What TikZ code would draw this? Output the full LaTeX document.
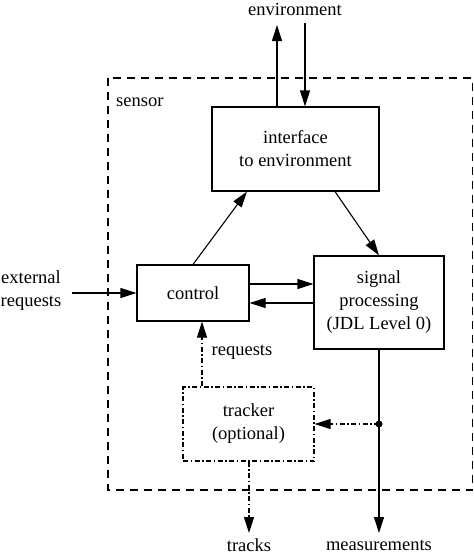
\documentclass[tikz,border=0pt]{standalone}
\usepackage{fontspec}
\setmainfont{Liberation Serif}
\usepackage{tikz}
\usetikzlibrary{positioning, arrows.meta, calc}
\tikzset{
  block/.style={rectangle, draw=black, line width=1.1pt, align=center, inner sep=0pt},
  optblock/.style={block, dash pattern=on 5pt off 2.5pt on 1.5pt off 2.5pt},
  label/.style={align=center, inner sep=1pt},
  arrow/.style={line width=1.1pt, -{Triangle[length=16pt, width=10pt]}},
  optarrow/.style={arrow, dash pattern=on 5pt off 2.5pt on 1.5pt off 2.5pt}
}
\begin{document}
\begin{tikzpicture}[x=1pt, y=-1pt, font=\rmfamily\fontsize{18.5}{23}\selectfont]
    \useasboundingbox (0,0) rectangle (474,555);

    % ==========================================
    % 1. Sensor (dashed frame)
    % ==========================================
    \draw[line width=1.1pt, dash pattern=on 8pt off 6pt] (108,78) rectangle (472.5,490);
    \node[label, anchor=west] (sensor) at (115,102) {sensor};

    % ==========================================
    % 2. Blocks
    % ==========================================
    \node[block, minimum width=167pt, minimum height=84pt] (iface) at (295.5,149) {interface\\to environment};
    \node[block, minimum width=112pt, minimum height=56pt] (control) at (193,293) {control};
    \node[block, minimum width=130pt, minimum height=93pt] (signal) at (379,302.5) {signal\\processing\\(JDL Level 0)};
    \node[optblock, minimum width=131pt, minimum height=74pt] (tracker) at (248.5,424) {tracker\\(optional)};

    % Texts outside the blocks
    \node[label] (env) at (295,9) {environment};
    \node[label] (ext) at (31,291) {external\\requests};
    \node[label] (req) at (242,352) {requests};
    \node[label] (tracks) at (249,545) {tracks};
    \node[label] (meas) at (379,545) {measurements};

    % Free ends of the connectors
    \coordinate (envout) at (277,25);
    \coordinate (envin) at (305,23);
    \coordinate (extout) at (72,293);
    \coordinate (tracksin) at (249,533);
    \coordinate (measin) at (379,533);

    % ==========================================
    % 3. Connections
    % ==========================================
    \draw[arrow] (iface.north -| envout) -- (envout);
    \draw[arrow] (envin) -- (iface.north -| envin);
    \draw[arrow] (extout) -- (control.west);
    \draw[arrow] (control.north) -- ($(iface.south)+(-48.5,0)$);
    \draw[arrow] ($(iface.south)+(39.5,0)$) -- (signal.north);
    \draw[arrow] ($(control.east)+(0,-9)$) -- ($(signal.west)+(0,-18.5)$);
    \draw[arrow] ($(signal.west)+(0,0.5)$) -- ($(control.east)+(0,10)$);
    \draw[arrow] (signal.south) -- (measin);

    % Tracker (optional part)
    \coordinate (tap) at (signal.south |- tracker.east);
    \fill (tap) circle (3.5pt);
    \draw[optarrow] (tap) -- (tracker.east);
    \draw[optarrow] ($(tracker.north)+(-46.5,0)$) -- ($(control.south)+(9,0)$);
    \draw[optarrow] (tracker.south -| tracksin) -- (tracksin);

\end{tikzpicture}
\end{document}
